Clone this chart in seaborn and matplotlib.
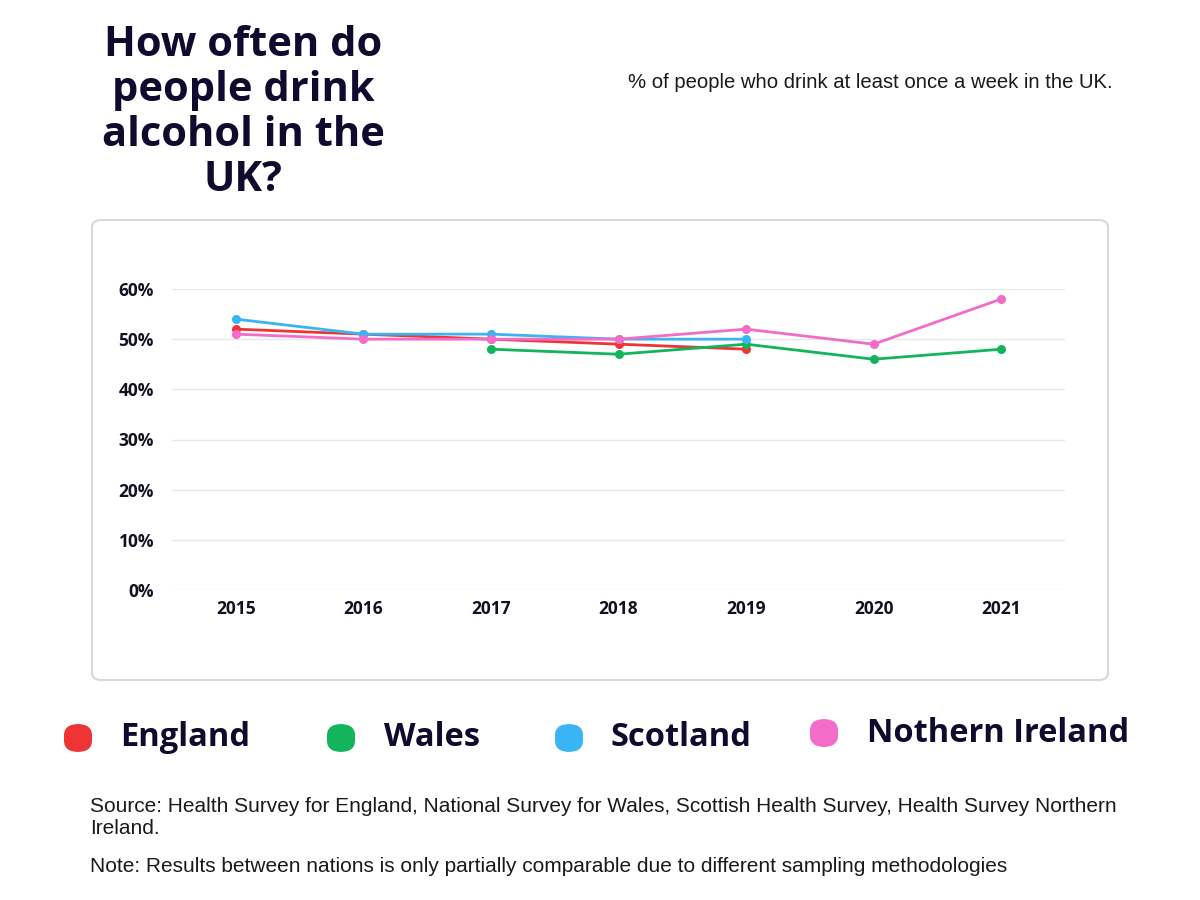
import matplotlib
matplotlib.use("Agg")
import matplotlib.pyplot as plt
from matplotlib.patches import FancyBboxPatch
import seaborn as sns
import pandas as pd
import numpy as np

years = [2015, 2016, 2017, 2018, 2019, 2020, 2021]
england_years = [2015, 2016, 2017, 2018, 2019]
england = [52, 51, 50, 49, 48]
wales_years = [2017, 2018, 2019, 2020, 2021]
wales = [48, 47, 49, 46, 48]
scotland_years = [2015, 2016, 2017, 2018, 2019]
scotland = [54, 51, 51, 50, 50]
ni_years = [2015, 2016, 2017, 2018, 2019, 2020, 2021]
ni = [51, 50, 50, 50, 52, 49, 58]
series_names = ["England", "Wales", "Scotland", "Nothern Ireland"]
colors = ["#ee3434", "#12b55c", "#3ab5f3", "#f26cc8"]
y_ticks = [0, 10, 20, 30, 40, 50, 60]

rows = []
for name, ys, vs in zip(series_names,
                        [england_years, wales_years, scotland_years, ni_years],
                        [england, wales, scotland, ni]):
    for y, v in zip(ys, vs):
        rows.append({"Year": y, "Value": v, "Nation": name})
df = pd.DataFrame(rows)

sns.set_theme(style="white")
plt.rcParams['font.family'] = ['Open Sans', 'DejaVu Sans']

fig = plt.figure(figsize=(12, 9), dpi=100)
fig.patch.set_facecolor("white")

# rounded frame
box = FancyBboxPatch((92/1200, 1-680/900), (1108-92)/1200, (680-220)/900,
                     boxstyle="round,pad=0,rounding_size=0.008",
                     transform=fig.transFigure, facecolor="white",
                     edgecolor="#d9d9d9", linewidth=1.5, zorder=0)
fig.patches.append(box)

ax = fig.add_axes([172/1200, 1-590/900, (1065-172)/1200, (590-289)/900])
ax.set_zorder(5)
ax.set_facecolor("none")
sns.lineplot(data=df, x="Year", y="Value", hue="Nation", hue_order=series_names,
             palette=colors, marker="o", markersize=6.5, markeredgewidth=0,
             linewidth=2, ax=ax, legend=False)

ax.set_xlim(2014.5, 2021.5)
ax.set_ylim(0, 60)
ax.set_yticks(y_ticks)
ax.set_yticklabels([f"{t}%" for t in y_ticks])
ax.set_xticks(years)
ax.set_xticklabels([str(y) for y in years])
ax.grid(axis="y", color="#e8e8e8", linewidth=1)
ax.set_axisbelow(True)
for s in ax.spines.values():
    s.set_visible(False)
ax.set_xlabel("")
ax.set_ylabel("")
ax.tick_params(axis="both", length=0, labelsize=12.5, labelcolor="#111122")
ax.tick_params(axis="y", pad=13)
ax.tick_params(axis="x", pad=7)
for lbl in ax.get_xticklabels() + ax.get_yticklabels():
    lbl.set_fontweight("bold")

title_color = "#0f0b2e"
fig.text(243/1200, 1-113/900, "How often do\npeople drink\nalcohol in the\nUK?",
         ha="center", va="center", fontsize=30, fontweight="bold",
         color=title_color, linespacing=1.13)

fig.text(1113/1200, 1-82/900, "% of people who drink at least once a week in the UK.",
         ha="right", va="center", fontsize=14.6, color="#1a1a1a",
         family=["Liberation Sans", "DejaVu Sans"])

# legend
leg_x = [78, 341, 569, 824]
leg_tx = [120, 384, 611, 867]
leg_y = [738, 738, 738, 733]
for name, c, lx, tx, ly in zip(series_names, colors, leg_x, leg_tx, leg_y):
    fig.patches.append(FancyBboxPatch(((lx-14)/1200, 1-(ly+14)/900), 28/1200, 28/900,
                                      boxstyle="round,pad=0,rounding_size=0.0125",
                                      transform=fig.transFigure, facecolor=c,
                                      edgecolor="none"))
    fig.text(tx/1200, 1-ly/900, name, ha="left", va="center", fontsize=23.5,
             fontweight="bold", color=title_color)

fig.text(90/1200, 1-797/900,
         "Source: Health Survey for England, National Survey for Wales, Scottish Health Survey, Health Survey Northern\nIreland.",
         ha="left", va="top", fontsize=15, color="#1a1a1a", linespacing=1.2,
         family=["Liberation Sans", "DejaVu Sans"])
fig.text(90/1200, 1-867/900,
         "Note: Results between nations is only partially comparable due to different sampling methodologies",
         ha="left", va="center", fontsize=15, color="#1a1a1a",
         family=["Liberation Sans", "DejaVu Sans"])

fig.savefig("out.png", dpi=100, facecolor="white")
